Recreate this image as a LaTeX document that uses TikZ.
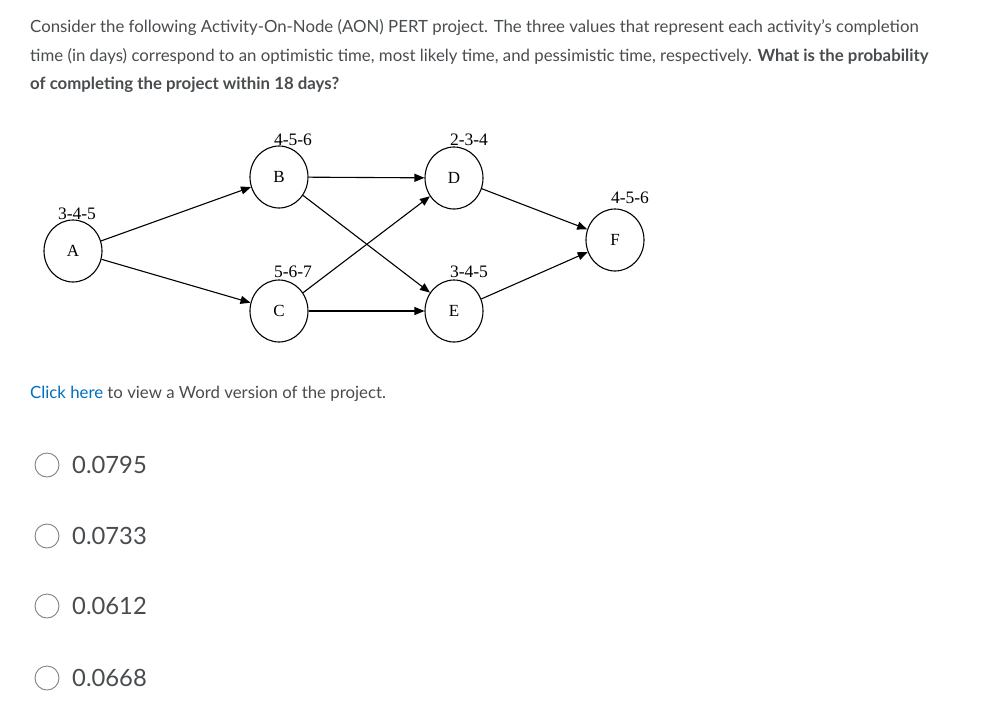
\documentclass[tikz,border=0pt]{standalone}
\usepackage{fontspec}
\setmainfont{Lato}
\newfontfamily\dfont{Liberation Serif}
\usetikzlibrary{arrows.meta,shapes.geometric}
\definecolor{txt}{HTML}{494C4E}
\definecolor{lnk}{HTML}{006FBF}
\begin{document}
\begin{tikzpicture}[x=1pt,y=-1pt,
  act/.style={draw,ellipse,line width=1.1pt,minimum width=58pt,minimum height=62pt,inner sep=0pt,font=\dfont\fontsize{17}{17}\selectfont},
  lab/.style={font=\dfont\fontsize{17.5}{17.5}\selectfont},
  arr/.style={-{Triangle[length=10pt,width=8pt]},line width=1.1pt},
  body/.style={anchor=base west,text=txt,font=\fontsize{16.8}{18}\selectfont,inner sep=0pt},
  opt/.style={anchor=west,text=txt,font=\fontsize{23.8}{24}\selectfont,inner sep=0pt},
  radio/.style={draw=gray,line width=0.9pt,circle,minimum size=24pt,inner sep=0pt,fill=white}]
\useasboundingbox (0,0) rectangle (999,716);
\node[body] (t1) at (30,32) {Consider the following Activity-On-Node (AON) PERT project. The three values that represent each activity's completion};
\node[body] (t2) at (30,61) {time (in days) correspond to an optimistic time, most likely time, and pessimistic time, respectively. \textbf{What is the probability}};
\node[body] (t3) at (30,89) {\textbf{of completing the project within 18 days?}};
\node[act] (A) at (73,251) {A};
\node[act] (B) at (279,177) {B};
\node[act] (C) at (279,311) {C};
\node[act] (D) at (454,178) {D};
\node[act] (E) at (454,311) {E};
\node[act] (F) at (615,240) {F};
\node[lab] (la) at (77,214) {3-4-5};
\node[lab] (lb) at (293,140) {4-5-6};
\node[lab] (lc) at (293,272) {5-6-7};
\node[lab] (ld) at (469,140) {2-3-4};
\node[lab] (le) at (469,272) {3-4-5};
\node[lab] (lf) at (630,198) {4-5-6};
\draw[arr] (A) -- (B);
\draw[arr] (A) -- (C);
\draw[arr] (B) -- (D);
\draw[arr] (B) -- (E);
\draw[arr] (C) -- (D);
\draw[arr] (C) -- (E);
\draw[arr] (D) -- (F);
\draw[arr] (E) -- (F);
\node[body] (click) at (30,398) {\textcolor{lnk}{Click here} to view a Word version of the project.};
\foreach \i/\y/\v in {1/465/0.0795,2/536/0.0733,3/606/0.0612,4/678/0.0668}{
  \node[radio] (r\i) at (47,\y) {};
  \node[opt] (o\i) at (72,\y) {\v};
}
\end{tikzpicture}
\end{document}
